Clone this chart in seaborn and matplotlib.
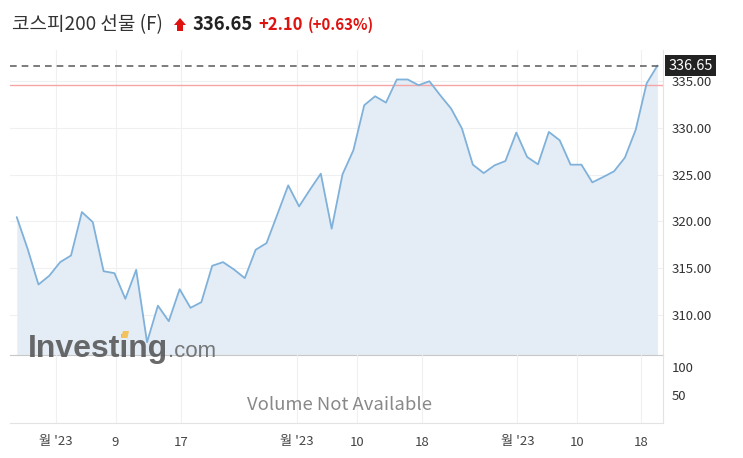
import matplotlib
matplotlib.use("Agg")
import matplotlib.pyplot as plt
import matplotlib.transforms as mtransforms
from matplotlib.patches import Polygon
import pandas as pd
import seaborn as sns

# 코스피200 선물 - daily closes
prices = [
    320.46, 317.08, 313.26, 314.20, 315.65, 316.36, 321.00, 319.93, 314.68, 314.47,
    311.73, 314.83, 307.10, 311.00, 309.34, 312.76, 310.77, 311.37, 315.26, 315.65,
    314.87, 313.94, 316.97, 317.68, 320.75, 323.85, 321.60, 323.39, 325.10, 319.22,
    325.03, 327.60, 332.41, 333.37, 332.69, 335.16, 335.16, 334.55, 334.97, 333.47,
    332.05, 329.91, 326.06, 325.16, 325.99, 326.45, 329.49, 326.88, 326.10, 329.56,
    328.66, 326.06, 326.06, 324.17, 324.74, 325.35, 326.81, 329.80, 334.74, 336.65,
]
last_price = 336.65
prev_close = 334.55
title = "코스피200 선물 (F)"
change_txt = "+2.10"
change_pct_txt = "(+0.63%)"

x_tick_pos = [3.6, 9.1, 15.1, 25.8, 31.3, 37.3, 46.1, 51.6, 57.5]
x_tick_labels = ["월 '23", "9", "17", "월 '23", "10", "18", "월 '23", "10", "18"]
price_ticks = [310, 315, 320, 325, 330, 335]
vol_ticks = [50, 100]

df = pd.DataFrame({"idx": range(len(prices)), "price": prices})

sns.set_style("white")
plt.rcParams['font.family'] = ['Noto Sans CJK KR', 'DejaVu Sans']

W, H = 743, 458
fig = plt.figure(figsize=(W / 100, H / 100), dpi=100)


def fx(px):
    return px / W


def fy(py):
    return 1 - py / H


ax = fig.add_axes([fx(10), fy(355), fx(663) - fx(10), fy(50) - fy(355)])
axv = fig.add_axes([fx(10), fy(423), fx(663) - fx(10), fy(355) - fy(423)], sharex=ax)
axv.set_facecolor("none")

# price area
ax.fill_between(df["idx"], df["price"], 300, color="#e4edf5", lw=0, zorder=1)
sns.lineplot(data=df, x="idx", y="price", ax=ax, color="#7fb1da", lw=1.3, zorder=3)
ax.axhline(last_price, color="#666666", lw=1.2, ls=(0, (4, 3)), zorder=4)
ax.axhline(prev_close, color="#f5a5a5", lw=1.0, zorder=2.6)

ax.set_xlim(-0.62, 59.51)
ax.set_ylim(305.73, 338.31)
ax.set_yticks(price_ticks)
ax.set_yticklabels([f"{v:.2f}" for v in price_ticks])
ax.yaxis.tick_right()
ax.tick_params(axis="y", length=0, pad=6, labelsize=9.5, labelcolor="#333333")
ax.tick_params(axis="x", length=0, labelbottom=False)
ax.set_xlabel("")
ax.set_ylabel("")
ax.grid(True, color="#eef0f2", lw=0.8)
for s in ["top", "left"]:
    ax.spines[s].set_visible(False)
ax.spines["right"].set_color("#e3e3e3")
ax.spines["bottom"].set_color("#c8c8c8")

# last price tag
blend = mtransforms.blended_transform_factory(ax.transAxes, ax.transData)
ax.annotate(f"{last_price:.2f}", xy=(1.0, last_price), xycoords=blend,
            xytext=(4, 0), textcoords="offset points", ha="left", va="center",
            color="white", fontsize=10.5, zorder=10, annotation_clip=False,
            bbox=dict(boxstyle="square,pad=0.22", fc="#222222", ec="none"))

# watermark (drawn over both panels)
fig.text(fx(28), fy(357), "Investing", fontfamily="Liberation Sans",
         fontweight="bold", fontsize=23, color="#555555", alpha=0.88, va="baseline", zorder=5)
fig.text(fx(168), fy(357), ".com", fontfamily="Liberation Sans",
         fontsize=16, color="#666666", alpha=0.88, va="baseline", zorder=5)
tittle = [(121, 338), (123, 331), (129, 331), (127.5, 338)]
fig.patches.append(Polygon([(fx(a), fy(b)) for a, b in tittle], closed=True,
                           transform=fig.transFigure, fc="#f2c35c", ec="none", zorder=6))

# volume panel
axv.set_ylim(0, 121.4)
axv.set_yticks(vol_ticks)
axv.yaxis.tick_right()
axv.tick_params(axis="y", length=0, pad=6, labelsize=9.5, labelcolor="#333333")
axv.set_xticks(x_tick_pos)
axv.set_xticklabels(x_tick_labels)
axv.tick_params(axis="x", length=4, color="#eeeeee", pad=5, labelsize=9.5, labelcolor="#444444")
axv.grid(True, axis="x", color="#eef0f2", lw=0.8)
for s in ["top", "left"]:
    axv.spines[s].set_visible(False)
axv.spines["right"].set_color("#e3e3e3")
axv.spines["bottom"].set_color("#e3e3e3")
axv.text(0.505, 0.265, "Volume Not Available", transform=axv.transAxes, ha="center", va="center",
         fontsize=13.3, color="#888888")

# header
fig.text(fx(12), fy(25), title, fontsize=13.7, color="#333333", va="center")
arrow = [(180, 18), (174, 25), (177, 25), (177, 31), (183, 31), (183, 25), (186, 25)]
fig.patches.append(Polygon([(fx(a), fy(b)) for a, b in arrow], closed=True,
                           transform=fig.transFigure, fc="#e0120f", ec="none"))
fig.text(fx(192), fy(25), f"{last_price:.2f}", fontsize=13.3, fontweight="bold",
         color="#222222", va="center")
fig.text(fx(258), fy(25), change_txt, fontsize=12, fontweight="bold", color="#e0120f", va="center")
fig.text(fx(308), fy(25), change_pct_txt, fontsize=10.8, fontweight="bold", color="#e0120f", va="center")

fig.savefig("out.png", dpi=100)
